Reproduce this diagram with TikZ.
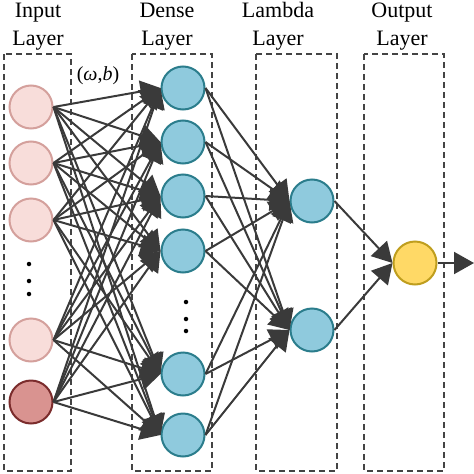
\documentclass[tikz,border=0pt]{standalone}
\usepackage{fontspec}
\setmainfont{Liberation Serif}
\usetikzlibrary{arrows.meta}
\definecolor{pinkf}{HTML}{F8DDDA}
\definecolor{pinkd}{HTML}{D4A09C}
\definecolor{redf}{HTML}{D99390}
\definecolor{redd}{HTML}{7B2C2C}
\definecolor{bluef}{HTML}{8FCADD}
\definecolor{blued}{HTML}{2B7D8C}
\definecolor{yelf}{HTML}{FFD966}
\definecolor{yeld}{HTML}{BF9E1E}
\definecolor{linec}{HTML}{3A3A3A}
\definecolor{boxc}{HTML}{444444}
\begin{document}
\begin{tikzpicture}[x=1pt,y=-1pt,
  lbl/.style={font=\fontsize{22}{26}\selectfont, anchor=base, inner sep=0},
  layerbox/.style={draw=boxc, line width=2pt, dash pattern=on 6pt off 4pt},
  neuron/.style={circle, minimum size=43pt, inner sep=0, line width=2pt},
  inp/.style={neuron, fill=pinkf, draw=pinkd},
  inpx/.style={neuron, fill=redf, draw=redd},
  hid/.style={neuron, fill=bluef, draw=blued},
  outn/.style={neuron, fill=yelf, draw=yeld},
  dotn/.style={circle, fill=black, inner sep=0, minimum size=4.5pt},
  conn/.style={draw=linec, line width=2pt, -{Triangle[length=20pt,width=22pt]}},
  ]
\useasboundingbox (0,0) rectangle (474,474);
% boxes
\draw[layerbox] (4,54) rectangle (71,471);
\draw[layerbox] (132,54) rectangle (212,471);
\draw[layerbox] (256,54) rectangle (337,471);
\draw[layerbox] (364,54) rectangle (444,471);
% titles
\node[lbl] (t1a) at (38,17) {Input};
\node[lbl] (t1b) at (38,45) {Layer};
\node[lbl] (t2a) at (167,17) {Dense};
\node[lbl] (t2b) at (167,45) {Layer};
\node[lbl] (t3a) at (278,17) {Lambda};
\node[lbl] (t3b) at (278,45) {Layer};
\node[lbl] (t4a) at (402,17) {Output};
\node[lbl] (t4b) at (402,45) {Layer};
\node[font=\fontsize{20}{22}\selectfont, inner sep=0, anchor=base] (wb) at (98,80) {(\textit{ω},\textit{b})};
% input nodes
\node[inp] (i1) at (31,107) {};
\node[inp] (i2) at (31,163) {};
\node[inp] (i3) at (31,220) {};
\node[inp] (i4) at (31,340) {};
\node[inpx] (i5) at (31,402) {};
\node[dotn] (id1) at (29,264) {};
\node[dotn] (id2) at (29,281) {};
\node[dotn] (id3) at (29,294) {};
% dense nodes
\node[hid] (d1) at (183,88) {};
\node[hid] (d2) at (183,142) {};
\node[hid] (d3) at (183,196) {};
\node[hid] (d4) at (183,251) {};
\node[hid] (d5) at (183,374) {};
\node[hid] (d6) at (183,435) {};
\node[dotn] (dd1) at (186,302) {};
\node[dotn] (dd2) at (186,319) {};
\node[dotn] (dd3) at (186,331) {};
% lambda nodes
\node[hid] (l1) at (312,201) {};
\node[hid] (l2) at (312,330) {};
% output
\node[outn] (o) at (415,263) {};
\coordinate (out) at (474,263);
% connections
\foreach \i in {1,...,5}{
  \foreach \d in {1,...,6}{
    \draw[conn] (i\i.east) -- (d\d.west);
  }
}
\foreach \d in {1,...,6}{
  \foreach \l in {1,2}{
    \draw[conn] (d\d.east) -- (l\l.west);
  }
}
\draw[conn] (l1.east) -- (o.west);
\draw[conn] (l2.east) -- (o.west);
\draw[conn] (o.east) -- (out);
\end{tikzpicture}
\end{document}
